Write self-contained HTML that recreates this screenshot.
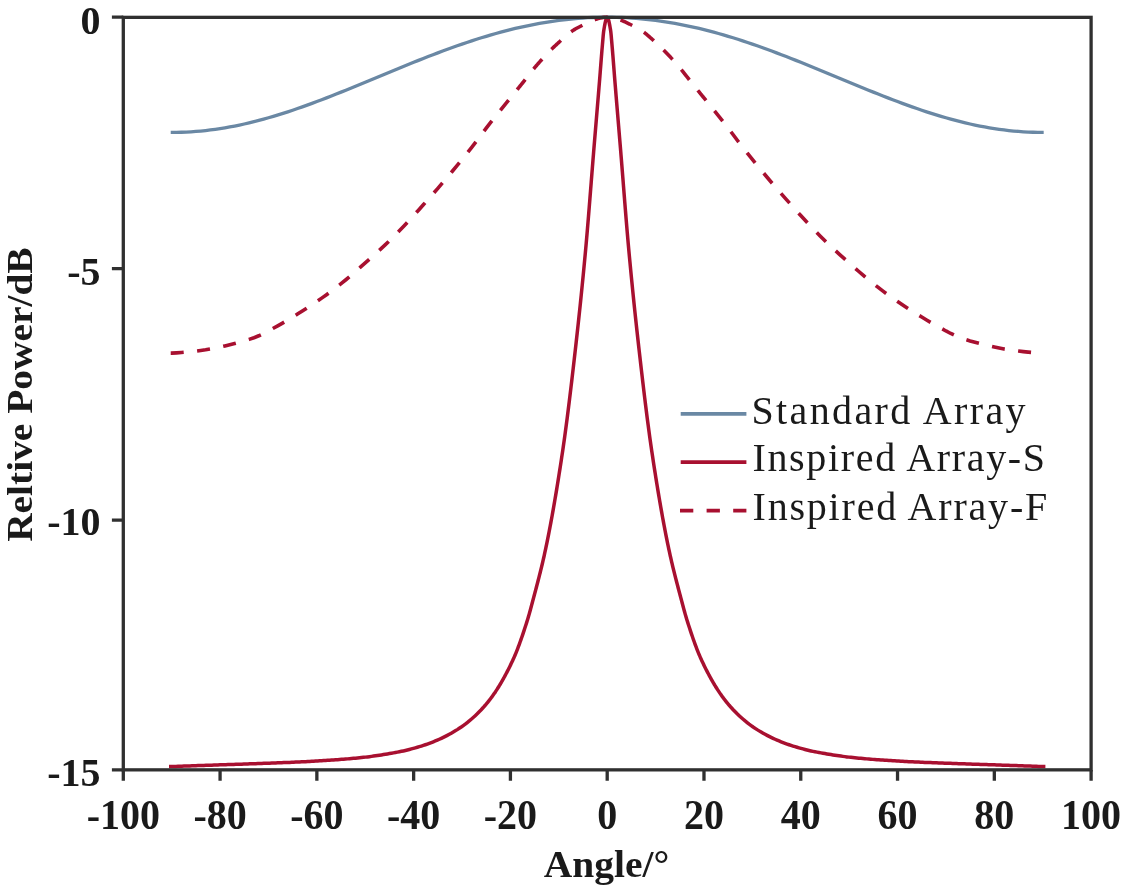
<!DOCTYPE html>
<html><head><meta charset="utf-8"><title>Relative Power vs Angle</title>
<style>html,body{margin:0;padding:0;background:#fff;width:1125px;height:885px;overflow:hidden}svg{display:block}</style>
</head><body>
<svg width="1125" height="885" viewBox="0 0 1125 885">
<rect width="1125" height="885" fill="#ffffff"/>
<path d="M170.72,132.40 L171.69,132.40 L176.53,132.36 L181.37,132.25 L186.21,132.06 L191.05,131.79 L195.88,131.44 L200.72,131.02 L205.56,130.53 L210.40,129.96 L215.24,129.31 L220.08,128.60 L224.92,127.81 L229.76,126.96 L234.60,126.03 L239.44,125.04 L244.28,123.99 L249.11,122.87 L253.95,121.68 L258.79,120.44 L263.63,119.14 L268.47,117.78 L273.31,116.37 L278.15,114.90 L282.99,113.39 L287.83,111.82 L292.67,110.21 L297.50,108.56 L302.34,106.87 L307.18,105.13 L312.02,103.37 L316.86,101.56 L321.70,99.73 L326.54,97.87 L331.38,95.98 L336.22,94.06 L341.06,92.13 L345.89,90.18 L350.73,88.21 L355.57,86.23 L360.41,84.23 L365.25,82.23 L370.09,80.22 L374.93,78.21 L379.77,76.20 L384.61,74.19 L389.45,72.18 L394.28,70.18 L399.12,68.19 L403.96,66.21 L408.80,64.24 L413.64,62.29 L418.48,60.36 L423.32,58.44 L428.16,56.55 L433.00,54.68 L437.84,52.84 L442.67,51.03 L447.51,49.25 L452.35,47.50 L457.19,45.78 L462.03,44.10 L466.87,42.46 L471.71,40.86 L476.55,39.30 L481.39,37.78 L486.23,36.31 L491.06,34.88 L495.90,33.50 L500.74,32.16 L505.58,30.88 L510.42,29.65 L515.26,28.47 L520.10,27.34 L524.94,26.27 L529.78,25.26 L534.62,24.30 L539.45,23.40 L544.29,22.56 L549.13,21.77 L553.97,21.05 L558.81,20.39 L563.65,19.78 L568.49,19.25 L573.33,18.77 L578.17,18.35 L583.00,18.00 L587.84,17.71 L592.68,17.49 L597.52,17.33 L602.36,17.23 L607.20,17.20 L612.04,17.23 L616.88,17.33 L621.72,17.49 L626.56,17.71 L631.40,18.00 L636.23,18.35 L641.07,18.77 L645.91,19.25 L650.75,19.78 L655.59,20.39 L660.43,21.05 L665.27,21.77 L670.11,22.56 L674.95,23.40 L679.79,24.30 L684.62,25.26 L689.46,26.27 L694.30,27.34 L699.14,28.47 L703.98,29.65 L708.82,30.88 L713.66,32.16 L718.50,33.50 L723.34,34.88 L728.18,36.31 L733.01,37.78 L737.85,39.30 L742.69,40.86 L747.53,42.46 L752.37,44.10 L757.21,45.78 L762.05,47.50 L766.89,49.25 L771.73,51.03 L776.57,52.84 L781.40,54.68 L786.24,56.55 L791.08,58.44 L795.92,60.36 L800.76,62.29 L805.60,64.24 L810.44,66.21 L815.28,68.19 L820.12,70.18 L824.96,72.18 L829.79,74.19 L834.63,76.20 L839.47,78.21 L844.31,80.22 L849.15,82.23 L853.99,84.23 L858.83,86.23 L863.67,88.21 L868.51,90.18 L873.35,92.13 L878.18,94.06 L883.02,95.98 L887.86,97.87 L892.70,99.73 L897.54,101.56 L902.38,103.37 L907.22,105.13 L912.06,106.87 L916.90,108.56 L921.74,110.21 L926.57,111.82 L931.41,113.39 L936.25,114.90 L941.09,116.37 L945.93,117.78 L950.77,119.14 L955.61,120.44 L960.45,121.68 L965.29,122.87 L970.12,123.99 L974.96,125.04 L979.80,126.03 L984.64,126.96 L989.48,127.81 L994.32,128.60 L999.16,129.31 L1004.00,129.96 L1008.84,130.53 L1013.68,131.02 L1018.52,131.44 L1023.35,131.79 L1028.19,132.06 L1033.03,132.25 L1037.87,132.36 L1042.71,132.40 L1043.68,132.40" fill="none" stroke="#6a88a4" stroke-width="3.3" stroke-linejoin="round"/>
<path d="M170.72,353.10 L171.69,353.10 L176.53,352.85 L181.37,352.50 L186.21,352.09 L191.05,351.61 L195.88,351.07 L200.72,350.47 L205.56,349.80 L210.40,349.00 L215.24,348.07 L220.08,347.04 L224.92,345.94 L229.76,344.79 L234.60,343.59 L239.44,342.31 L244.28,340.92 L249.11,339.40 L253.95,337.71 L258.79,335.77 L263.63,333.48 L268.47,330.95 L273.31,328.27 L278.15,325.57 L282.99,322.85 L287.83,320.02 L292.67,317.09 L297.50,314.08 L302.34,311.03 L307.18,307.92 L312.02,304.75 L316.86,301.49 L321.70,298.13 L326.54,294.67 L331.38,291.10 L336.22,287.43 L341.06,283.64 L345.89,279.74 L350.73,275.69 L355.57,271.49 L360.41,267.22 L365.25,262.94 L370.09,258.65 L374.93,254.33 L379.77,249.93 L384.61,245.40 L389.45,240.73 L394.28,235.92 L399.12,231.00 L403.96,225.98 L408.80,220.82 L413.64,215.54 L418.48,210.19 L423.32,204.81 L428.16,199.38 L433.00,193.90 L437.84,188.34 L442.67,182.71 L447.51,177.01 L452.35,171.24 L457.19,165.39 L462.03,159.48 L466.87,153.48 L471.71,147.36 L476.55,141.03 L481.39,134.52 L486.23,128.06 L491.06,121.86 L495.90,115.84 L500.74,109.90 L505.58,103.93 L510.42,97.96 L510.90,97.36 L511.39,96.76 L511.87,96.17 L512.36,95.57 L512.84,94.97 L513.32,94.37 L513.81,93.78 L514.29,93.18 L514.78,92.58 L515.26,91.99 L515.74,91.39 L516.23,90.79 L516.71,90.20 L517.19,89.60 L517.68,89.00 L518.16,88.40 L518.65,87.81 L519.13,87.21 L519.61,86.61 L520.10,86.01 L520.58,85.41 L521.07,84.81 L521.55,84.21 L522.03,83.61 L522.52,83.01 L523.00,82.40 L523.49,81.79 L523.97,81.18 L524.45,80.57 L524.94,79.95 L525.42,79.34 L525.90,78.72 L526.39,78.11 L526.87,77.49 L527.36,76.87 L527.84,76.25 L528.32,75.64 L528.81,75.02 L529.29,74.41 L529.78,73.79 L530.26,73.18 L530.74,72.57 L531.23,71.96 L531.71,71.35 L532.20,70.75 L532.68,70.15 L533.16,69.55 L533.65,68.95 L534.13,68.36 L534.62,67.78 L535.10,67.19 L535.58,66.61 L536.07,66.04 L536.55,65.47 L537.03,64.91 L537.52,64.35 L538.00,63.80 L538.49,63.25 L538.97,62.70 L539.45,62.16 L539.94,61.61 L540.42,61.07 L540.91,60.53 L541.39,59.99 L541.87,59.45 L542.36,58.92 L542.84,58.38 L543.33,57.85 L543.81,57.32 L544.29,56.80 L544.78,56.27 L545.26,55.75 L545.74,55.23 L546.23,54.71 L546.71,54.20 L547.20,53.69 L547.68,53.18 L548.16,52.68 L548.65,52.17 L549.13,51.68 L549.62,51.18 L550.10,50.69 L550.58,50.20 L551.07,49.71 L551.55,49.23 L552.04,48.75 L552.52,48.28 L553.00,47.81 L553.49,47.34 L553.97,46.88 L554.45,46.42 L554.94,45.97 L555.42,45.51 L555.91,45.07 L556.39,44.63 L556.87,44.18 L557.36,43.74 L557.84,43.29 L558.33,42.85 L558.81,42.40 L559.29,41.95 L559.78,41.51 L560.26,41.06 L560.75,40.61 L561.23,40.17 L561.71,39.73 L562.20,39.28 L562.68,38.84 L563.17,38.41 L563.65,37.97 L564.13,37.54 L564.62,37.11 L565.10,36.68 L565.58,36.26 L566.07,35.84 L566.55,35.43 L567.04,35.02 L567.52,34.61 L568.00,34.21 L568.49,33.82 L568.97,33.43 L569.46,33.05 L569.94,32.67 L570.42,32.30 L570.91,31.94 L571.39,31.58 L571.88,31.24 L572.36,30.90 L572.84,30.56 L573.33,30.24 L573.81,29.93 L574.29,29.62 L574.78,29.33 L575.26,29.04 L575.75,28.76 L576.23,28.50 L576.71,28.24 L577.20,28.00 L577.68,27.75 L578.17,27.50 L578.65,27.25 L579.13,27.00 L579.62,26.75 L580.10,26.50 L580.59,26.25 L581.07,26.00 L581.55,25.75 L582.04,25.50 L582.52,25.25 L583.00,25.00 L583.49,24.75 L583.97,24.51 L584.46,24.26 L584.94,24.02 L585.42,23.78 L585.91,23.54 L586.39,23.31 L586.88,23.07 L587.36,22.84 L587.84,22.61 L588.33,22.38 L588.81,22.16 L589.30,21.93 L589.78,21.71 L590.26,21.50 L590.75,21.29 L591.23,21.08 L591.72,20.87 L592.20,20.67 L592.68,20.48 L593.17,20.28 L593.65,20.09 L594.13,19.91 L594.62,19.73 L595.10,19.56 L595.59,19.39 L596.07,19.22 L596.55,19.06 L597.04,18.91 L597.52,18.76 L598.01,18.62 L598.49,18.48 L598.97,18.35 L599.46,18.22 L599.94,18.11 L600.43,17.99 L600.91,17.89 L601.39,17.79 L601.88,17.70 L602.36,17.62 L602.84,17.54 L603.33,17.47 L603.81,17.41 L604.30,17.35 L604.78,17.31 L605.26,17.27 L605.75,17.24 L606.23,17.22 L606.72,17.20 L607.20,17.20 L607.68,17.20 L608.17,17.22 L608.65,17.24 L609.14,17.27 L609.62,17.31 L610.10,17.35 L610.59,17.41 L611.07,17.47 L611.56,17.54 L612.04,17.62 L612.52,17.70 L613.01,17.79 L613.49,17.89 L613.97,17.99 L614.46,18.11 L614.94,18.22 L615.43,18.35 L615.91,18.48 L616.39,18.62 L616.88,18.76 L617.36,18.91 L617.85,19.06 L618.33,19.22 L618.81,19.39 L619.30,19.56 L619.78,19.73 L620.27,19.91 L620.75,20.09 L621.23,20.28 L621.72,20.48 L622.20,20.67 L622.68,20.87 L623.17,21.08 L623.65,21.29 L624.14,21.50 L624.62,21.71 L625.10,21.93 L625.59,22.16 L626.07,22.38 L626.56,22.61 L627.04,22.84 L627.52,23.07 L628.01,23.31 L628.49,23.54 L628.98,23.78 L629.46,24.02 L629.94,24.26 L630.43,24.51 L630.91,24.75 L631.40,25.00 L631.88,25.25 L632.36,25.50 L632.85,25.75 L633.33,26.00 L633.81,26.25 L634.30,26.50 L634.78,26.75 L635.27,27.00 L635.75,27.25 L636.23,27.50 L636.72,27.75 L637.20,28.00 L637.69,28.24 L638.17,28.50 L638.65,28.76 L639.14,29.04 L639.62,29.33 L640.11,29.62 L640.59,29.93 L641.07,30.24 L641.56,30.56 L642.04,30.90 L642.52,31.24 L643.01,31.58 L643.49,31.94 L643.98,32.30 L644.46,32.67 L644.94,33.05 L645.43,33.43 L645.91,33.82 L646.40,34.21 L646.88,34.61 L647.36,35.02 L647.85,35.43 L648.33,35.84 L648.82,36.26 L649.30,36.68 L649.78,37.11 L650.27,37.54 L650.75,37.97 L651.23,38.41 L651.72,38.84 L652.20,39.28 L652.69,39.73 L653.17,40.17 L653.65,40.61 L654.14,41.06 L654.62,41.51 L655.11,41.95 L655.59,42.40 L656.07,42.85 L656.56,43.29 L657.04,43.74 L657.53,44.18 L658.01,44.63 L658.49,45.07 L658.98,45.51 L659.46,45.97 L659.95,46.42 L660.43,46.88 L660.91,47.34 L661.40,47.81 L661.88,48.28 L662.36,48.75 L662.85,49.23 L663.33,49.71 L663.82,50.20 L664.30,50.69 L664.78,51.18 L665.27,51.68 L665.75,52.17 L666.24,52.68 L666.72,53.18 L667.20,53.69 L667.69,54.20 L668.17,54.71 L668.66,55.23 L669.14,55.75 L669.62,56.27 L670.11,56.80 L670.59,57.32 L671.07,57.85 L671.56,58.38 L672.04,58.92 L672.53,59.45 L673.01,59.99 L673.49,60.53 L673.98,61.07 L674.46,61.61 L674.95,62.16 L675.43,62.70 L675.91,63.25 L676.40,63.80 L676.88,64.35 L677.37,64.91 L677.85,65.47 L678.33,66.04 L678.82,66.61 L679.30,67.19 L679.79,67.78 L680.27,68.36 L680.75,68.95 L681.24,69.55 L681.72,70.15 L682.20,70.75 L682.69,71.35 L683.17,71.96 L683.66,72.57 L684.14,73.18 L684.62,73.79 L685.11,74.41 L685.59,75.02 L686.08,75.64 L686.56,76.25 L687.04,76.87 L687.53,77.49 L688.01,78.11 L688.50,78.72 L688.98,79.34 L689.46,79.95 L689.95,80.57 L690.43,81.18 L690.91,81.79 L691.40,82.40 L691.88,83.01 L692.37,83.61 L692.85,84.21 L693.33,84.81 L693.82,85.41 L694.30,86.01 L694.79,86.61 L695.27,87.21 L695.75,87.81 L696.24,88.40 L696.72,89.00 L697.21,89.60 L697.69,90.20 L698.17,90.79 L698.66,91.39 L699.14,91.99 L699.62,92.58 L700.11,93.18 L700.59,93.78 L701.08,94.37 L701.56,94.97 L702.04,95.57 L702.53,96.17 L703.01,96.76 L703.50,97.36 L703.98,97.96 L708.82,103.93 L713.66,109.90 L718.50,115.84 L723.34,121.86 L728.18,128.06 L733.01,134.52 L737.85,141.03 L742.69,147.36 L747.53,153.48 L752.37,159.48 L757.21,165.39 L762.05,171.24 L766.89,177.01 L771.73,182.71 L776.57,188.34 L781.40,193.90 L786.24,199.38 L791.08,204.81 L795.92,210.19 L800.76,215.54 L805.60,220.82 L810.44,225.98 L815.28,231.00 L820.12,235.92 L824.96,240.73 L829.79,245.40 L834.63,249.93 L839.47,254.33 L844.31,258.65 L849.15,262.94 L853.99,267.22 L858.83,271.49 L863.67,275.69 L868.51,279.74 L873.35,283.64 L878.18,287.43 L883.02,291.10 L887.86,294.67 L892.70,298.13 L897.54,301.49 L902.38,304.75 L907.22,307.92 L912.06,311.03 L916.90,314.08 L921.74,317.09 L926.57,320.02 L931.41,322.85 L936.25,325.57 L941.09,328.27 L945.93,330.95 L950.77,333.48 L955.61,335.77 L960.45,337.71 L965.29,339.40 L970.12,340.92 L974.96,342.31 L979.80,343.59 L984.64,344.79 L989.48,345.94 L994.32,347.04 L999.16,348.07 L1004.00,349.00 L1008.84,349.80 L1013.68,350.47 L1018.52,351.07 L1023.35,351.61 L1028.19,352.09 L1033.03,352.50 L1037.87,352.85 L1042.71,353.10 L1043.68,353.10" fill="none" stroke="#a81030" stroke-width="3.6" stroke-dasharray="13 13.49" stroke-linejoin="round"/>
<path d="M169.00,766.60 L170.00,766.60 L171.99,766.53 L173.99,766.46 L175.98,766.39 L177.98,766.32 L179.97,766.25 L181.97,766.18 L183.96,766.11 L185.96,766.04 L187.95,765.97 L189.95,765.90 L191.94,765.83 L193.94,765.76 L195.93,765.69 L197.93,765.62 L199.92,765.55 L201.92,765.48 L203.91,765.41 L205.91,765.35 L207.90,765.28 L209.90,765.21 L211.89,765.14 L213.89,765.08 L215.88,765.01 L217.88,764.94 L219.87,764.87 L221.87,764.81 L223.86,764.74 L225.86,764.67 L227.85,764.61 L229.85,764.54 L231.84,764.47 L233.84,764.40 L235.83,764.34 L237.83,764.27 L239.82,764.20 L241.82,764.13 L243.81,764.06 L245.81,763.99 L247.80,763.92 L249.80,763.85 L251.79,763.78 L253.79,763.71 L255.78,763.63 L257.78,763.56 L259.77,763.49 L261.77,763.42 L263.76,763.35 L265.76,763.28 L267.75,763.20 L269.75,763.13 L271.74,763.06 L273.74,762.99 L275.73,762.92 L277.73,762.84 L279.72,762.77 L281.72,762.69 L283.71,762.62 L285.71,762.54 L287.70,762.46 L289.70,762.38 L291.69,762.29 L293.69,762.20 L295.68,762.11 L297.68,762.02 L299.67,761.93 L301.67,761.83 L303.66,761.73 L305.66,761.63 L307.65,761.52 L309.65,761.42 L311.64,761.31 L313.64,761.20 L315.63,761.09 L317.63,760.97 L319.62,760.86 L321.62,760.74 L323.61,760.62 L325.61,760.49 L327.60,760.36 L329.60,760.23 L331.59,760.09 L333.59,759.96 L335.58,759.82 L337.58,759.67 L339.57,759.52 L341.57,759.37 L343.56,759.21 L345.56,759.05 L347.55,758.88 L349.55,758.71 L351.54,758.54 L353.54,758.36 L355.53,758.18 L357.53,757.99 L359.52,757.79 L361.52,757.58 L363.51,757.36 L365.51,757.13 L367.50,756.89 L369.50,756.64 L371.49,756.37 L373.49,756.10 L375.48,755.82 L377.48,755.53 L379.47,755.23 L381.47,754.92 L383.46,754.60 L385.46,754.27 L387.45,753.93 L389.45,753.59 L391.44,753.23 L393.44,752.87 L395.43,752.50 L397.43,752.13 L399.42,751.74 L401.42,751.34 L403.41,750.92 L405.41,750.46 L407.40,749.97 L409.40,749.46 L411.39,748.93 L413.39,748.39 L415.38,747.82 L417.38,747.24 L419.37,746.66 L421.37,746.05 L423.36,745.41 L425.36,744.74 L427.35,744.04 L429.35,743.31 L431.34,742.56 L433.34,741.79 L435.33,740.98 L437.33,740.14 L439.32,739.26 L441.32,738.34 L443.31,737.39 L445.31,736.40 L447.30,735.38 L449.30,734.32 L451.29,733.21 L453.29,732.06 L455.28,730.87 L457.28,729.63 L459.27,728.33 L461.27,726.98 L463.26,725.56 L465.26,724.09 L467.25,722.54 L469.25,720.93 L471.24,719.24 L473.24,717.49 L475.23,715.67 L477.23,713.77 L479.22,711.78 L481.22,709.71 L483.21,707.55 L485.21,705.28 L487.20,702.91 L487.70,702.30 L488.20,701.68 L488.70,701.05 L489.20,700.42 L489.70,699.78 L490.20,699.13 L490.70,698.47 L491.20,697.81 L491.70,697.13 L492.20,696.45 L492.70,695.75 L493.20,695.05 L493.70,694.34 L494.20,693.62 L494.70,692.89 L495.20,692.15 L495.70,691.40 L496.20,690.64 L496.70,689.87 L497.20,689.10 L497.70,688.31 L498.20,687.52 L498.70,686.71 L499.20,685.90 L499.70,685.08 L500.20,684.25 L500.70,683.40 L501.20,682.55 L501.70,681.70 L502.20,680.83 L502.70,679.95 L503.20,679.06 L503.70,678.16 L504.20,677.26 L504.70,676.34 L505.20,675.42 L505.70,674.49 L506.20,673.54 L506.70,672.59 L507.20,671.63 L507.70,670.66 L508.20,669.67 L508.70,668.68 L509.20,667.68 L509.70,666.67 L510.20,665.66 L510.70,664.63 L511.20,663.59 L511.70,662.54 L512.20,661.49 L512.70,660.42 L513.20,659.34 L513.70,658.23 L514.20,657.09 L514.70,655.94 L515.20,654.76 L515.70,653.55 L516.20,652.32 L516.70,651.08 L517.20,649.81 L517.70,648.52 L518.20,647.21 L518.70,645.88 L519.20,644.53 L519.70,643.16 L520.20,641.77 L520.70,640.37 L521.20,638.95 L521.70,637.51 L522.20,636.06 L522.70,634.59 L523.20,633.11 L523.70,631.62 L524.20,630.11 L524.70,628.58 L525.20,627.05 L525.70,625.50 L526.20,623.94 L526.70,622.37 L527.20,620.79 L527.70,619.20 L528.20,617.55 L528.70,615.85 L529.20,614.11 L529.70,612.33 L530.20,610.51 L530.70,608.66 L531.20,606.80 L531.70,604.92 L532.20,603.03 L532.70,601.13 L533.20,599.24 L533.70,597.36 L534.20,595.48 L534.70,593.60 L535.20,591.72 L535.70,589.84 L536.20,587.95 L536.70,586.05 L537.20,584.15 L537.70,582.24 L538.20,580.31 L538.70,578.37 L539.20,576.42 L539.70,574.44 L540.20,572.45 L540.70,570.43 L541.20,568.39 L541.70,566.32 L542.20,564.22 L542.70,562.10 L543.20,559.94 L543.70,557.74 L544.20,555.51 L544.70,553.24 L545.20,550.94 L545.70,548.59 L546.20,546.20 L546.70,543.79 L547.20,541.35 L547.70,538.87 L548.20,536.36 L548.70,533.83 L549.20,531.26 L549.70,528.66 L550.20,526.03 L550.70,523.37 L551.20,520.67 L551.70,517.95 L552.20,515.20 L552.70,512.42 L553.20,509.61 L553.70,506.77 L554.20,503.90 L554.70,500.99 L555.20,498.06 L555.70,495.11 L556.20,492.12 L556.70,489.10 L557.20,486.05 L557.70,482.98 L558.20,479.87 L558.70,476.74 L559.20,473.58 L559.70,470.39 L560.20,467.18 L560.70,463.93 L561.20,460.66 L561.70,457.36 L562.20,454.03 L562.70,450.67 L563.20,447.28 L563.70,443.82 L564.20,440.29 L564.70,436.70 L565.20,433.06 L565.70,429.35 L566.20,425.59 L566.70,421.78 L567.20,417.91 L567.70,414.00 L568.20,410.04 L568.70,406.03 L569.20,401.98 L569.70,397.90 L570.20,393.77 L570.70,389.61 L571.20,385.41 L571.70,381.18 L572.20,376.92 L572.70,372.64 L573.20,368.33 L573.70,364.00 L574.20,359.64 L574.70,355.27 L575.20,350.88 L575.70,346.47 L576.20,342.03 L576.70,337.55 L577.20,333.03 L577.70,328.48 L578.20,323.88 L578.70,319.24 L579.20,314.56 L579.70,309.83 L580.20,305.06 L580.70,300.23 L581.20,295.36 L581.70,290.43 L582.20,285.45 L582.70,280.41 L583.20,275.31 L583.70,270.16 L584.20,264.94 L584.70,259.66 L585.20,254.32 L585.70,248.91 L586.20,243.37 L586.70,237.68 L587.20,231.86 L587.45,228.90 L587.70,225.92 L587.95,222.91 L588.20,219.88 L588.45,216.82 L588.70,213.75 L588.95,210.66 L589.20,207.55 L589.45,204.43 L589.70,201.30 L589.95,198.16 L590.20,195.01 L590.45,191.86 L590.70,188.70 L590.95,185.54 L591.20,182.38 L591.45,179.22 L591.70,176.07 L591.95,172.92 L592.20,169.78 L592.45,166.65 L592.70,163.53 L592.95,160.43 L593.20,157.34 L593.45,154.27 L593.70,151.21 L593.95,148.18 L594.20,145.16 L594.45,142.14 L594.70,139.13 L594.95,136.12 L595.20,133.12 L595.45,130.12 L595.70,127.12 L595.95,124.12 L596.20,121.12 L596.45,118.13 L596.70,115.13 L596.95,112.13 L597.20,109.13 L597.45,106.12 L597.70,103.11 L597.95,100.09 L598.20,97.07 L598.45,94.04 L598.70,91.01 L598.95,87.96 L599.20,84.91 L599.45,81.84 L599.70,78.76 L599.95,75.63 L600.20,72.44 L600.45,69.22 L600.70,65.99 L600.95,62.76 L601.20,59.55 L601.45,56.38 L601.70,53.27 L601.95,50.23 L602.20,47.28 L602.45,44.44 L602.70,41.51 L602.95,38.55 L603.20,35.70 L603.45,33.14 L603.70,31.00 L603.95,29.41 L604.20,27.96 L604.45,26.54 L604.70,25.18 L604.95,23.88 L605.20,22.66 L605.45,21.53 L605.70,20.50 L605.95,19.60 L606.20,18.82 L606.45,18.20 L606.70,17.74 L606.95,17.45 L607.20,17.35 L607.45,17.45 L607.70,17.74 L607.95,18.20 L608.20,18.82 L608.45,19.60 L608.70,20.50 L608.95,21.53 L609.20,22.66 L609.45,23.88 L609.70,25.18 L609.95,26.54 L610.20,27.96 L610.45,29.41 L610.70,31.00 L610.95,33.14 L611.20,35.70 L611.45,38.55 L611.70,41.51 L611.95,44.44 L612.20,47.28 L612.45,50.23 L612.70,53.27 L612.95,56.38 L613.20,59.55 L613.45,62.76 L613.70,65.99 L613.95,69.22 L614.20,72.44 L614.45,75.63 L614.70,78.76 L614.95,81.84 L615.20,84.91 L615.45,87.96 L615.70,91.01 L615.95,94.04 L616.20,97.07 L616.45,100.09 L616.70,103.11 L616.95,106.12 L617.20,109.13 L617.45,112.13 L617.70,115.13 L617.95,118.13 L618.20,121.12 L618.45,124.12 L618.70,127.12 L618.95,130.12 L619.20,133.12 L619.45,136.12 L619.70,139.13 L619.95,142.14 L620.20,145.16 L620.45,148.18 L620.70,151.21 L620.95,154.27 L621.20,157.34 L621.45,160.43 L621.70,163.53 L621.95,166.65 L622.20,169.78 L622.45,172.92 L622.70,176.07 L622.95,179.22 L623.20,182.38 L623.45,185.54 L623.70,188.70 L623.95,191.86 L624.20,195.01 L624.45,198.16 L624.70,201.30 L624.95,204.43 L625.20,207.55 L625.45,210.66 L625.70,213.75 L625.95,216.82 L626.20,219.88 L626.45,222.91 L626.70,225.92 L626.95,228.90 L627.20,231.86 L627.70,237.68 L628.20,243.37 L628.70,248.91 L629.20,254.32 L629.70,259.66 L630.20,264.94 L630.70,270.16 L631.20,275.31 L631.70,280.41 L632.20,285.45 L632.70,290.43 L633.20,295.36 L633.70,300.23 L634.20,305.06 L634.70,309.83 L635.20,314.56 L635.70,319.24 L636.20,323.88 L636.70,328.48 L637.20,333.03 L637.70,337.55 L638.20,342.03 L638.70,346.47 L639.20,350.88 L639.70,355.27 L640.20,359.64 L640.70,364.00 L641.20,368.33 L641.70,372.64 L642.20,376.92 L642.70,381.18 L643.20,385.41 L643.70,389.61 L644.20,393.77 L644.70,397.90 L645.20,401.98 L645.70,406.03 L646.20,410.04 L646.70,414.00 L647.20,417.91 L647.70,421.78 L648.20,425.59 L648.70,429.35 L649.20,433.06 L649.70,436.70 L650.20,440.29 L650.70,443.82 L651.20,447.28 L651.70,450.67 L652.20,454.03 L652.70,457.36 L653.20,460.66 L653.70,463.93 L654.20,467.18 L654.70,470.39 L655.20,473.58 L655.70,476.74 L656.20,479.87 L656.70,482.98 L657.20,486.05 L657.70,489.10 L658.20,492.12 L658.70,495.11 L659.20,498.06 L659.70,500.99 L660.20,503.90 L660.70,506.77 L661.20,509.61 L661.70,512.42 L662.20,515.20 L662.70,517.95 L663.20,520.67 L663.70,523.37 L664.20,526.03 L664.70,528.66 L665.20,531.26 L665.70,533.83 L666.20,536.36 L666.70,538.87 L667.20,541.35 L667.70,543.79 L668.20,546.20 L668.70,548.59 L669.20,550.94 L669.70,553.24 L670.20,555.51 L670.70,557.74 L671.20,559.94 L671.70,562.10 L672.20,564.22 L672.70,566.32 L673.20,568.39 L673.70,570.43 L674.20,572.45 L674.70,574.44 L675.20,576.42 L675.70,578.37 L676.20,580.31 L676.70,582.24 L677.20,584.15 L677.70,586.05 L678.20,587.95 L678.70,589.84 L679.20,591.72 L679.70,593.60 L680.20,595.48 L680.70,597.36 L681.20,599.24 L681.70,601.13 L682.20,603.03 L682.70,604.92 L683.20,606.80 L683.70,608.66 L684.20,610.51 L684.70,612.33 L685.20,614.11 L685.70,615.85 L686.20,617.55 L686.70,619.20 L687.20,620.79 L687.70,622.37 L688.20,623.94 L688.70,625.50 L689.20,627.05 L689.70,628.58 L690.20,630.11 L690.70,631.62 L691.20,633.11 L691.70,634.59 L692.20,636.06 L692.70,637.51 L693.20,638.95 L693.70,640.37 L694.20,641.77 L694.70,643.16 L695.20,644.53 L695.70,645.88 L696.20,647.21 L696.70,648.52 L697.20,649.81 L697.70,651.08 L698.20,652.32 L698.70,653.55 L699.20,654.76 L699.70,655.94 L700.20,657.09 L700.70,658.23 L701.20,659.34 L701.70,660.42 L702.20,661.49 L702.70,662.54 L703.20,663.59 L703.70,664.63 L704.20,665.66 L704.70,666.67 L705.20,667.68 L705.70,668.68 L706.20,669.67 L706.70,670.66 L707.20,671.63 L707.70,672.59 L708.20,673.54 L708.70,674.49 L709.20,675.42 L709.70,676.34 L710.20,677.26 L710.70,678.16 L711.20,679.06 L711.70,679.95 L712.20,680.83 L712.70,681.70 L713.20,682.55 L713.70,683.40 L714.20,684.25 L714.70,685.08 L715.20,685.90 L715.70,686.71 L716.20,687.52 L716.70,688.31 L717.20,689.10 L717.70,689.87 L718.20,690.64 L718.70,691.40 L719.20,692.15 L719.70,692.89 L720.20,693.62 L720.70,694.34 L721.20,695.05 L721.70,695.75 L722.20,696.45 L722.70,697.13 L723.20,697.81 L723.70,698.47 L724.20,699.13 L724.70,699.78 L725.20,700.42 L725.70,701.05 L726.20,701.68 L726.70,702.30 L727.20,702.91 L729.19,705.28 L731.19,707.55 L733.18,709.71 L735.18,711.78 L737.17,713.77 L739.17,715.67 L741.16,717.49 L743.16,719.24 L745.15,720.93 L747.15,722.54 L749.14,724.09 L751.14,725.56 L753.13,726.98 L755.13,728.33 L757.12,729.63 L759.12,730.87 L761.11,732.06 L763.11,733.21 L765.10,734.32 L767.10,735.38 L769.09,736.40 L771.09,737.39 L773.08,738.34 L775.08,739.26 L777.07,740.14 L779.07,740.98 L781.06,741.79 L783.06,742.56 L785.05,743.31 L787.05,744.04 L789.04,744.74 L791.04,745.41 L793.03,746.05 L795.03,746.66 L797.02,747.24 L799.02,747.82 L801.01,748.39 L803.01,748.93 L805.00,749.46 L807.00,749.97 L808.99,750.46 L810.99,750.92 L812.98,751.34 L814.98,751.74 L816.97,752.13 L818.97,752.50 L820.96,752.87 L822.96,753.23 L824.95,753.59 L826.95,753.93 L828.94,754.27 L830.94,754.60 L832.93,754.92 L834.93,755.23 L836.92,755.53 L838.92,755.82 L840.91,756.10 L842.91,756.37 L844.90,756.64 L846.90,756.89 L848.89,757.13 L850.89,757.36 L852.88,757.58 L854.88,757.79 L856.87,757.99 L858.87,758.18 L860.86,758.36 L862.86,758.54 L864.85,758.71 L866.85,758.88 L868.84,759.05 L870.84,759.21 L872.83,759.37 L874.83,759.52 L876.82,759.67 L878.82,759.82 L880.81,759.96 L882.81,760.09 L884.80,760.23 L886.80,760.36 L888.79,760.49 L890.79,760.62 L892.78,760.74 L894.78,760.86 L896.77,760.97 L898.77,761.09 L900.76,761.20 L902.76,761.31 L904.75,761.42 L906.75,761.52 L908.74,761.63 L910.74,761.73 L912.73,761.83 L914.73,761.93 L916.72,762.02 L918.72,762.11 L920.71,762.20 L922.71,762.29 L924.70,762.38 L926.70,762.46 L928.69,762.54 L930.69,762.62 L932.68,762.69 L934.68,762.77 L936.67,762.84 L938.67,762.92 L940.66,762.99 L942.66,763.06 L944.65,763.13 L946.65,763.20 L948.64,763.28 L950.64,763.35 L952.63,763.42 L954.63,763.49 L956.62,763.56 L958.62,763.63 L960.61,763.71 L962.61,763.78 L964.60,763.85 L966.60,763.92 L968.59,763.99 L970.59,764.06 L972.58,764.13 L974.58,764.20 L976.57,764.27 L978.57,764.34 L980.56,764.40 L982.56,764.47 L984.55,764.54 L986.55,764.61 L988.54,764.67 L990.54,764.74 L992.53,764.81 L994.53,764.87 L996.52,764.94 L998.52,765.01 L1000.51,765.08 L1002.51,765.14 L1004.50,765.21 L1006.50,765.28 L1008.49,765.35 L1010.49,765.41 L1012.48,765.48 L1014.48,765.55 L1016.47,765.62 L1018.47,765.69 L1020.46,765.76 L1022.46,765.83 L1024.45,765.90 L1026.45,765.97 L1028.44,766.04 L1030.44,766.11 L1032.43,766.18 L1034.43,766.25 L1036.42,766.32 L1038.42,766.39 L1040.41,766.46 L1042.41,766.53 L1044.40,766.60 L1045.40,766.60" fill="none" stroke="#a81030" stroke-width="3.5" stroke-linejoin="round"/>
<rect x="123.3" y="17.35" width="967.8" height="752.5" fill="none" stroke="#303030" stroke-width="3.3"/>
<path d="M111.9,17.20 H123.3 M111.9,268.60 H123.3 M111.9,520.10 H123.3 M111.9,769.90 H123.3 M123.30,769.9 V780.7 M220.08,769.9 V780.7 M316.86,769.9 V780.7 M413.64,769.9 V780.7 M510.42,769.9 V780.7 M607.20,769.9 V780.7 M703.98,769.9 V780.7 M800.76,769.9 V780.7 M897.54,769.9 V780.7 M994.32,769.9 V780.7 M1091.10,769.9 V780.7" stroke="#303030" stroke-width="3.3" fill="none"/>
<g font-family="Liberation Serif, serif" font-weight="bold" font-size="40" fill="#1a1a1a">
<text transform="translate(100.5,33.5) scale(1,1.02)" text-anchor="end">0</text>
<text transform="translate(100.5,284.6) scale(1,1.02)" text-anchor="end">-5</text>
<text transform="translate(100.5,534.9) scale(1,1.02)" text-anchor="end">-10</text>
<text transform="translate(100.5,786.2) scale(1,1.02)" text-anchor="end">-15</text>
<text transform="translate(123.3,829.3) scale(1,1.04)" text-anchor="middle">-100</text>
<text transform="translate(220.1,829.3) scale(1,1.04)" text-anchor="middle">-80</text>
<text transform="translate(316.9,829.3) scale(1,1.04)" text-anchor="middle">-60</text>
<text transform="translate(413.6,829.3) scale(1,1.04)" text-anchor="middle">-40</text>
<text transform="translate(510.4,829.3) scale(1,1.04)" text-anchor="middle">-20</text>
<text transform="translate(607.2,829.3) scale(1,1.04)" text-anchor="middle">0</text>
<text transform="translate(704.0,829.3) scale(1,1.04)" text-anchor="middle">20</text>
<text transform="translate(800.8,829.3) scale(1,1.04)" text-anchor="middle">40</text>
<text transform="translate(897.5,829.3) scale(1,1.04)" text-anchor="middle">60</text>
<text transform="translate(994.3,829.3) scale(1,1.04)" text-anchor="middle">80</text>
<text transform="translate(1091.1,829.3) scale(1,1.04)" text-anchor="middle">100</text>
<text x="606.6" y="876.8" font-size="38" text-anchor="middle" textLength="125.5" lengthAdjust="spacingAndGlyphs">Angle/°</text>
<text transform="translate(32.3,394.6) rotate(-90)" x="0" y="0" font-size="36.5" text-anchor="middle" textLength="294.5" lengthAdjust="spacingAndGlyphs">Reltive Power/dB</text>
</g>
<path d="M680.7,413.8 H746.4" stroke="#6a88a4" stroke-width="3.8"/>
<path d="M680.7,462.2 H746.4" stroke="#a81030" stroke-width="3.8"/>
<path d="M680,510.6 H746.4" stroke="#a81030" stroke-width="3.8" stroke-dasharray="13.3 13.3"/>
<g font-family="Liberation Serif, serif" font-size="40" fill="#1a1a1a">
<text x="751.5" y="423.8" textLength="274" lengthAdjust="spacing">Standard Array</text>
<text x="752.5" y="471.3" textLength="292.5" lengthAdjust="spacing">Inspired Array-S</text>
<text x="752.5" y="520" textLength="294.8" lengthAdjust="spacing">Inspired Array-F</text>
</g>
</svg>
</body></html>
